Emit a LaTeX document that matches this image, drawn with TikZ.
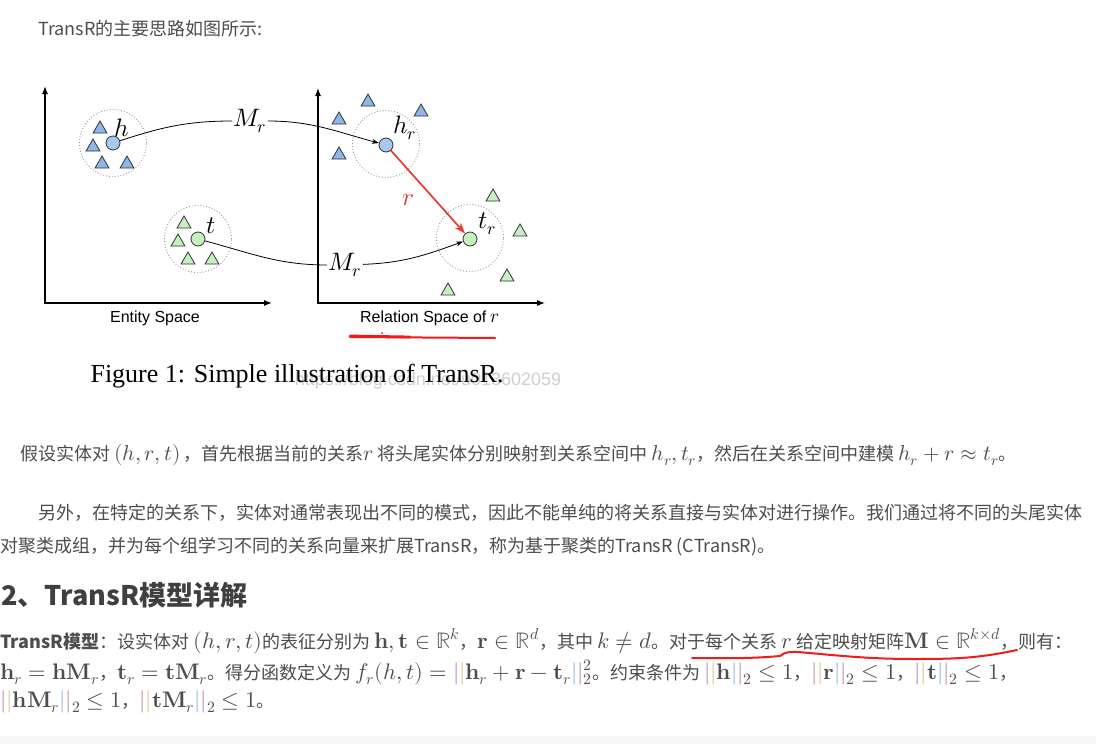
\documentclass[tikz,border=0pt]{standalone}
\usepackage{fontspec}
\usepackage{unicode-math}
\setmainfont{Liberation Serif}
\setmathfont{Latin Modern Math}[Scale=1.2]
\setmathfont{Latin Modern Math}[version=big,Scale=1.25]
\newfontfamily\cjk{Noto Sans CJK SC}
\newfontfamily\figsans{Liberation Sans}
\usetikzlibrary{shapes.geometric,arrows.meta}

\definecolor{bodytext}{HTML}{4D4D4D}
\definecolor{headtext}{HTML}{3F3F3F}
\definecolor{bluefill}{HTML}{8DB6EA}
\definecolor{bluedot}{HTML}{A8C8F0}
\definecolor{greenfill}{HTML}{C6EFC2}
\definecolor{penred}{HTML}{F41A1A}
\definecolor{vecred}{HTML}{E83A2E}
\definecolor{wmgray}{HTML}{CFCFCF}
\definecolor{barA}{HTML}{B07CA8}
\definecolor{barB}{HTML}{E0B870}
\definecolor{barC}{HTML}{88AEDC}

\newcommand\nbl{\textcolor{barA}{|}\textcolor{barB}{|}}
\newcommand\nbr{\textcolor{barC}{|}\textcolor{barA}{|}}

\begin{document}
\begin{tikzpicture}[x=1pt,y=-1pt,inner sep=0.5pt,
  line/.style={anchor=base west, inner sep=0, text=bodytext,
    font=\cjk\fontsize{18}{22}\selectfont},
  bigline/.style={line, font=\cjk\fontsize{18}{22}\selectfont\mathversion{big}},
  axis/.style={line width=1.1pt, {Latex[length=8pt,width=6pt]}-{Latex[length=8pt,width=6pt]}},
  cluster/.style={circle, draw=gray!80, dotted, line width=0.9pt, minimum size=67pt},
  dot/.style={circle, draw=black!80, line width=0.8pt, minimum size=14pt, inner sep=0},
  tri/.style={regular polygon, regular polygon sides=3, minimum size=16pt, inner sep=0,
    draw=black!80, line width=0.8pt},
  maplabel/.style={inner sep=1pt, font=\fontsize{21}{23}\selectfont},
  map/.style={line width=0.8pt, -{Stealth[length=7pt,width=5pt]}},
  redpen/.style={penred, line cap=round, line width=2pt}]

\fill[white] (0,0) rectangle (1096,744);
\useasboundingbox (0,0) rectangle (1096,744);
\fill[black!3] (0,736) rectangle (1096,744);

\node[line](intro) at (38,35) {TransR的主要思路如图所示:};

% entity space
\coordinate(eo) at (45,303);
\coordinate(ey) at (45,86);
\coordinate(ex) at (272,303);
\draw[axis] (ey) -- (eo) -- (ex);
\node(es) at (155,318) {\figsans\fontsize{16}{18}\selectfont Entity Space};

\node[cluster](ch) at (113,143) {};
\node[tri, fill=bluefill](h1) at (100,129) {};
\node[tri, fill=bluefill](h2) at (93,147) {};
\node[tri, fill=bluefill](h3) at (102,164) {};
\node[tri, fill=bluefill](h4) at (127,164) {};
\node[dot, fill=bluedot](h) at (113,143) {};
\node[maplabel](hl) at (122,128) {$h$};

\node[cluster](ct) at (198,239) {};
\node[tri, fill=greenfill](t1) at (184,224) {};
\node[tri, fill=greenfill](t2) at (178,242) {};
\node[tri, fill=greenfill](t3) at (188,260) {};
\node[tri, fill=greenfill](t4) at (212,260) {};
\node[dot, fill=greenfill](t) at (198,239) {};
\node[maplabel](tl) at (211,226) {$t$};

% relation space
\coordinate(ro) at (318,303);
\coordinate(ry) at (318,88);
\coordinate(rx) at (545,303);
\draw[axis] (ry) -- (ro) -- (rx);
\node(rs) at (430,318) {\figsans\fontsize{16}{18}\selectfont Relation Space of $r$};

\node[cluster](chr) at (386,144) {};
\node[tri, fill=bluefill](hr1) at (368,102) {};
\node[tri, fill=bluefill](hr2) at (421,112) {};
\node[tri, fill=bluefill](hr3) at (339,120) {};
\node[tri, fill=bluefill](hr4) at (339,155) {};
\node[dot, fill=bluedot](hr) at (386,145) {};
\node[maplabel](hrl) at (405,128) {$h_r$};

\node[cluster](ctr) at (470,238) {};
\node[tri, fill=greenfill](tr1) at (493,197) {};
\node[tri, fill=greenfill](tr2) at (520,232) {};
\node[tri, fill=greenfill](tr3) at (507,277) {};
\node[tri, fill=greenfill](tr4) at (448,291) {};
\node[dot, fill=greenfill](tr) at (470,239) {};
\node[maplabel](trl) at (487,224) {$t_r$};

% projections and translation
\node[maplabel](m1) at (250,121) {$M_r$};
\node[maplabel](m2) at (345,265) {$M_r$};
\draw[line width=0.8pt] (h) to[out=18,in=180] (m1);
\draw[map] (m1) to[out=0,in=165] (hr);
\draw[line width=0.8pt] (t) to[out=-15,in=180] (m2);
\draw[map] (m2) to[out=2,in=200] (tr);
\draw[vecred, line width=1.7pt, -{Stealth[length=11pt,width=8pt]}] (hr) -- (tr);
\node[maplabel, text=vecred](rl) at (408,200) {$r$};

\draw[redpen, line width=2.8pt] (350,336) -- (410,337);
\draw[redpen] (350,337) -- (495,338);
\fill[penred] (382,333) circle (1pt);

\node[text=wmgray](wm) at (428,381) {\figsans\fontsize{18}{20}\selectfont https://blog.csdn.net/u013602059};
\node(cap) at (297,376) {\fontsize{26}{30}\selectfont Figure 1: Simple illustration of TransR.};

% text
\node[line](p1) at (20,460) {假设实体对 $(h,r,t)$\,，首先根据当前的关系$r$ 将头尾实体分别映射到关系空间中 $h_r,t_r$，然后在关系空间中建模 $h_r+r\approx t_r$。};
\node[line](p2) at (38,519) {另外，在特定的关系下，实体对通常表现出不同的模式，因此不能单纯的将关系直接与实体对进行操作。我们通过将不同的头尾实体};
\node[line](p3) at (0,552) {对聚类成组，并为每个组学习不同的关系向量来扩展TransR，称为基于聚类的TransR (CTransR)。};

\node[line, text=headtext, font=\cjk\bfseries\fontsize{27}{30}\selectfont](sec) at (1,605) {2、TransR模型详解};

\node[bigline](q1) at (0,648) {{\bfseries TransR模型}：设实体对 $(h,r,t)$的表征分别为 $\symbf{h},\symbf{t}\in\symbb{R}^k$，$\symbf{r}\in\symbb{R}^d$，其中 $k\neq d$。对于每个关系 $r$ 给定映射矩阵$\symbf{M}\in\symbb{R}^{k\times d}$，则有：};
\node[bigline](q2) at (0,679) {$\symbf{h}_r=\symbf{h}\symbf{M}_r$，$\symbf{t}_r=\symbf{t}\symbf{M}_r$。得分函数定义为 $f_r(h,t)=\nbl\symbf{h}_r+\symbf{r}-\symbf{t}_r\nbr_2^2$。约束条件为 $\nbl\symbf{h}\nbr_2\leq1$，$\nbl\symbf{r}\nbr_2\leq1$，$\nbl\symbf{t}\nbr_2\leq1$，};
\node[bigline](q3) at (0,707) {$\nbl\symbf{h}\symbf{M}_r\nbr_2\leq1$，$\nbl\symbf{t}\symbf{M}_r\nbr_2\leq1$。};

\draw[redpen] (692,658) to[out=0,in=185] (780,656) to[out=40,in=180] (798,652)
  to[out=-5,in=180] (915,659) to[out=0,in=192] (1017,650);

\end{tikzpicture}
\end{document}
